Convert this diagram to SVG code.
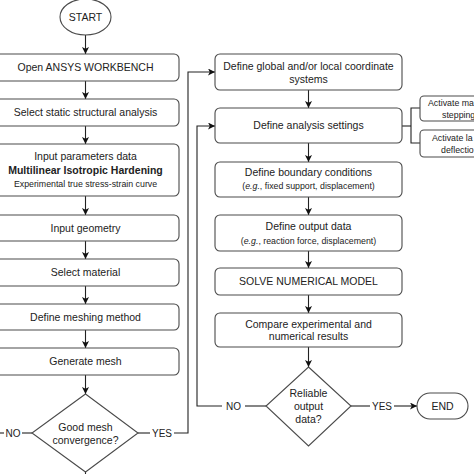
<svg xmlns="http://www.w3.org/2000/svg" width="474" height="474" viewBox="0 0 474 474">
<defs>
<marker id="arr" markerWidth="8" markerHeight="8" refX="7" refY="3.5" orient="auto" markerUnits="userSpaceOnUse">
<path d="M0,0 L7,3.5 L0,7 L1.8,3.5 z" fill="#111"/>
</marker>
<style>
.box{fill:#fff;stroke:#4a4a4a;stroke-width:1.1}
.t{font-family:"Liberation Sans",Arial,sans-serif;font-size:10.5px;fill:#222;text-anchor:middle}
.s{font-family:"Liberation Sans",Arial,sans-serif;font-size:8.8px;fill:#222;text-anchor:middle}
.b{font-weight:bold}
.c{fill:none;stroke:#222;stroke-width:1.1}
.a{marker-end:url(#arr)}
.lbl{font-family:"Liberation Sans",Arial,sans-serif;font-size:10px;fill:#222;text-anchor:middle}
</style>
</defs>
<rect width="474" height="474" fill="#fff"/>
<g id="connectors">
<line class="c a" x1="85.5" y1="35" x2="85.5" y2="54"/>
<line class="c a" x1="85.5" y1="81" x2="85.5" y2="99"/>
<line class="c a" x1="85.5" y1="126" x2="85.5" y2="144"/>
<line class="c a" x1="85.5" y1="196" x2="85.5" y2="215"/>
<line class="c a" x1="85.5" y1="241" x2="85.5" y2="259"/>
<line class="c a" x1="85.5" y1="286" x2="85.5" y2="304"/>
<line class="c a" x1="85.5" y1="330" x2="85.5" y2="348"/>
<line class="c a" x1="85.5" y1="375" x2="85.5" y2="394"/>
<line class="c" x1="85.5" y1="472" x2="85.5" y2="476"/>
<line class="c" x1="0" y1="433" x2="4" y2="433"/>
<line class="c" x1="22" y1="433" x2="32" y2="433"/>
<line class="c" x1="138" y1="433" x2="150" y2="433"/>
<polyline class="c a" points="174,433 188,433 188,72 215,72"/>
<line class="c a" x1="308.5" y1="90" x2="308.5" y2="108"/>
<line class="c a" x1="308.5" y1="143" x2="308.5" y2="162"/>
<line class="c a" x1="308.5" y1="197" x2="308.5" y2="215"/>
<line class="c a" x1="308.5" y1="251" x2="308.5" y2="268"/>
<line class="c a" x1="308.5" y1="295" x2="308.5" y2="313"/>
<line class="c a" x1="308.5" y1="347" x2="308.5" y2="367"/>
<line class="c" x1="266" y1="406" x2="245" y2="406"/>
<polyline class="c a" points="222,406 197,406 197,126 215,126"/>
<line class="c" x1="351" y1="406" x2="370" y2="406"/>
<line class="c a" x1="394" y1="406" x2="417" y2="406"/>
<polyline class="c" points="402,126 411,126"/>
<polyline class="c" points="420,108 411,108 411,143 420,143"/>
<text class="lbl" x="13" y="436.5">NO</text>
<text class="lbl" x="162" y="436.5">YES</text>
<text class="lbl" x="233.5" y="409.5">NO</text>
<text class="lbl" x="382" y="409.5">YES</text>
</g>
<g id="start">
<ellipse class="box" cx="85.5" cy="17" rx="25.5" ry="18"/>
<text class="t" x="85.5" y="20.8">START</text>
</g>
<g id="open">
<rect class="box" x="-8" y="54" width="187" height="27" rx="5"/>
<text class="t" x="85.5" y="71.3">Open ANSYS WORKBENCH</text>
</g>
<g id="select-static">
<rect class="box" x="-8" y="99" width="187" height="27" rx="5"/>
<text class="t" x="85.5" y="116.3">Select static structural analysis</text>
</g>
<g id="input-params">
<rect class="box" x="-8" y="144" width="187" height="52" rx="5"/>
<text class="t" x="85.5" y="159.8">Input parameters data</text>
<text class="t b" x="85.5" y="173.8">Multilinear Isotropic Hardening</text>
<text class="s" x="85.5" y="187.2">Experimental true stress-strain curve</text>
</g>
<g id="input-geometry">
<rect class="box" x="-8" y="215" width="187" height="26" rx="5"/>
<text class="t" x="85.5" y="231.8">Input geometry</text>
</g>
<g id="select-material">
<rect class="box" x="-8" y="259" width="187" height="27" rx="5"/>
<text class="t" x="85.5" y="276.3">Select material</text>
</g>
<g id="meshing-method">
<rect class="box" x="-8" y="304" width="187" height="26" rx="5"/>
<text class="t" x="85.5" y="320.8">Define meshing method</text>
</g>
<g id="generate-mesh">
<rect class="box" x="-8" y="348" width="187" height="27" rx="5"/>
<text class="t" x="85.5" y="365.3">Generate mesh</text>
</g>
<g id="mesh-convergence">
<polygon class="box" points="85.5,394 138,433 85.5,472 32,433"/>
<text class="t" x="85.5" y="430.5">Good mesh</text>
<text class="t" x="85.5" y="443.8">convergence?</text>
</g>
<g id="coordinate-systems">
<rect class="box" x="215" y="54" width="187" height="36" rx="5"/>
<text class="t" x="308.5" y="69.5">Define global and/or local coordinate</text>
<text class="t" x="308.5" y="82.8">systems</text>
</g>
<g id="analysis-settings">
<rect class="box" x="215" y="108" width="187" height="35" rx="5"/>
<text class="t" x="308.5" y="129.3">Define analysis settings</text>
</g>
<g id="time-stepping">
<rect class="box" x="420" y="96" width="80" height="25" rx="4"/>
<text class="s" x="428" y="106" text-anchor="start" style="text-anchor:start">Activate ma</text>
<text class="s" x="442" y="117.5" style="text-anchor:start">stepping</text>
</g>
<g id="large-deflection">
<rect class="box" x="420" y="130" width="80" height="27" rx="4"/>
<text class="s" x="432" y="141" style="text-anchor:start">Activate la</text>
<text class="s" x="441" y="152.5" style="text-anchor:start">deflectio</text>
</g>
<g id="boundary-conditions">
<rect class="box" x="215" y="162" width="187" height="35" rx="5"/>
<text class="t" x="308.5" y="176">Define boundary conditions</text>
<text class="s" x="308.5" y="188.8">(<tspan font-style="italic">e.g.</tspan>, fixed support, displacement)</text>
</g>
<g id="output-data">
<rect class="box" x="215" y="215" width="187" height="36" rx="5"/>
<text class="t" x="308.5" y="229.7">Define output data</text>
<text class="s" x="308.5" y="243.5">(<tspan font-style="italic">e.g.</tspan>, reaction force, displacement)</text>
</g>
<g id="solve">
<rect class="box" x="215" y="268" width="187" height="27" rx="5"/>
<text class="t" x="308.5" y="285.3">SOLVE NUMERICAL MODEL</text>
</g>
<g id="compare">
<rect class="box" x="215" y="313" width="187" height="34" rx="5"/>
<text class="t" x="308.5" y="328">Compare experimental and</text>
<text class="t" x="308.5" y="340.4">numerical results</text>
</g>
<g id="reliable">
<polygon class="box" points="308.5,367 351,406 308.5,446 266,406"/>
<text class="t" x="308.5" y="396.7">Reliable</text>
<text class="t" x="308.5" y="409.7">output</text>
<text class="t" x="308.5" y="422.7">data?</text>
</g>
<g id="end">
<rect class="box" x="417" y="393" width="51" height="26" rx="13"/>
<text class="t" x="442.5" y="409.7">END</text>
</g>
</svg>
